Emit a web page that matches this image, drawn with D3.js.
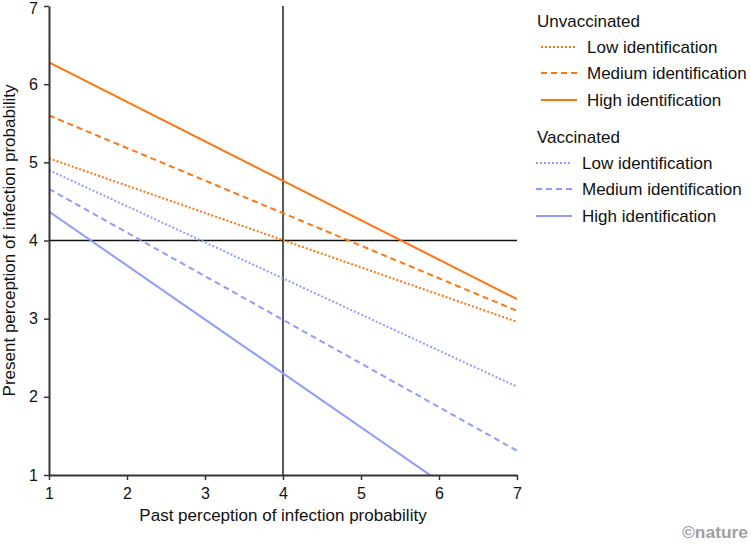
<!DOCTYPE html>
<html>
<head>
	<meta charset="utf-8">
	<script src="https://d3js.org/d3.v7.min.js"></script>
	<title>Infection perception</title>
	<style>
		body { margin: 0; background: #fff; }
		text { font-family: "Liberation Sans", Arial, Helvetica, sans-serif; fill: #111; }
	</style>
</head>
<body>
	<div id="chart"></div>

	<script type="text/javascript">

		// data: values at x = 1 and x = 7
		var groups = ["Unvaccinated", "Vaccinated"];
		var levels = ["Low identification", "Medium identification", "High identification"];
		var xEnds = [1, 7];
		var unvaccinated = [[5.05, 2.96], [5.60, 3.10], [6.28, 3.25]];
		var vaccinated = [[4.90, 2.13], [4.66, 1.31], [4.37, 0.23]];
		var xTicks = [1, 2, 3, 4, 5, 6, 7];
		var yTicks = [1, 2, 3, 4, 5, 6, 7];
		var refX = 4, refY = 4;

		var colors = {"Unvaccinated": "#ff7510", "Vaccinated": "#8e9dfc"};
		var dashes = ["2,2", "6,4", null];

		var width = 751, height = 549;
		var margin = {left: 49, top: 6, right: 234, bottom: 74};

		var svg = d3.select("#chart").append("svg")
			.attr("width", width)
			.attr("height", height);

		var x = d3.scaleLinear().domain([1, 7]).range([margin.left, width - margin.right]);
		var y = d3.scaleLinear().domain([1, 7]).range([height - margin.bottom, margin.top]);

		svg.append("clipPath").attr("id", "plotclip")
			.append("rect")
			.attr("x", x(1)).attr("y", y(7))
			.attr("width", x(7) - x(1)).attr("height", y(1) - y(7));

		// reference lines
		svg.append("line")
			.attr("x1", x(refX)).attr("x2", x(refX))
			.attr("y1", y(7)).attr("y2", y(1))
			.attr("stroke", "#111").attr("stroke-width", 1.4);
		svg.append("line")
			.attr("x1", x(1)).attr("x2", x(7))
			.attr("y1", y(refY)).attr("y2", y(refY))
			.attr("stroke", "#111").attr("stroke-width", 1.4);

		var series = [];
		unvaccinated.forEach(function(v, i){
			series.push({group: "Unvaccinated", level: i, values: v});
		});
		vaccinated.forEach(function(v, i){
			series.push({group: "Vaccinated", level: i, values: v});
		});

		var line = d3.line()
			.x(function(d){ return x(d[0]); })
			.y(function(d){ return y(d[1]); });

		svg.append("g").attr("clip-path", "url(#plotclip)")
			.selectAll("path")
			.data(series).enter()
			.append("path")
			.attr("d", function(d){
				return line(xEnds.map(function(xv, j){ return [xv, d.values[j]]; }));
			})
			.attr("fill", "none")
			.attr("stroke", function(d){ return colors[d.group]; })
			.attr("stroke-width", 2)
			.attr("stroke-dasharray", function(d){ return dashes[d.level]; });

		// axes
		var xAxis = svg.append("g")
			.attr("transform", "translate(0," + y(1) + ")")
			.call(d3.axisBottom(x).tickValues(xTicks).tickFormat(d3.format("d")).tickSize(5).tickSizeOuter(0));
		var yAxis = svg.append("g")
			.attr("transform", "translate(" + x(1) + ",0)")
			.call(d3.axisLeft(y).tickValues(yTicks).tickFormat(d3.format("d")).tickSize(5).tickSizeOuter(0));

		[xAxis, yAxis].forEach(function(a){
			a.select(".domain").attr("stroke", "#333").attr("stroke-width", 2);
			a.selectAll(".tick line").attr("stroke", "#333").attr("stroke-width", 1.5);
			a.selectAll(".tick text")
				.attr("font-size", 16)
				.attr("font-family", "Liberation Sans, Arial, sans-serif")
				.attr("fill", "#111");
		});
		xAxis.selectAll(".tick text").attr("y", 9).attr("dy", "0.95em");
		yAxis.selectAll(".tick text").attr("x", -11);
		// keep the top label inside the page
		yAxis.selectAll(".tick text").filter(function(d){ return d === 7; }).attr("y", 2);

		svg.append("text")
			.attr("x", (x(1) + x(7)) / 2)
			.attr("y", 521)
			.attr("text-anchor", "middle")
			.attr("font-size", 17)
			.text("Past perception of infection probability");

		svg.append("text")
			.attr("transform", "translate(15," + ((y(1) + y(7)) / 2) + ") rotate(-90)")
			.attr("text-anchor", "middle")
			.attr("font-size", 17)
			.text("Present perception of infection probability");

		// legend
		var legendPos = [
			{group: "Unvaccinated", head: 27, lx1: 541, lx2: 577, tx: 587, rows: [47, 73, 100]},
			{group: "Vaccinated", head: 143, lx1: 536, lx2: 572, tx: 582, rows: [163, 189, 216]}
		];

		legendPos.forEach(function(g){
			svg.append("text")
				.attr("x", 537).attr("y", g.head)
				.attr("font-size", 17)
				.text(g.group);
			var items = svg.append("g").selectAll("g")
				.data(levels).enter()
				.append("g");
			items.append("line")
				.attr("x1", g.lx1).attr("x2", g.lx2)
				.attr("y1", function(d, i){ return g.rows[i]; })
				.attr("y2", function(d, i){ return g.rows[i]; })
				.attr("stroke", colors[g.group])
				.attr("stroke-width", 2)
				.attr("stroke-dasharray", function(d, i){ return dashes[i]; });
			items.append("text")
				.attr("x", g.tx)
				.attr("y", function(d, i){ return g.rows[i] + 6; })
				.attr("font-size", 17)
				.text(function(d){ return d; });
		});

		svg.append("text")
			.attr("x", 748).attr("y", 538)
			.attr("text-anchor", "end")
			.attr("font-size", 17)
			.attr("font-weight", "bold")
			.attr("font-family", "Liberation Serif, serif")
			.attr("textLength", 66)
			.attr("lengthAdjust", "spacingAndGlyphs")
			.style("fill", "#a0a0a0")
			.text("©nature");

	</script>
</body>
</html>
